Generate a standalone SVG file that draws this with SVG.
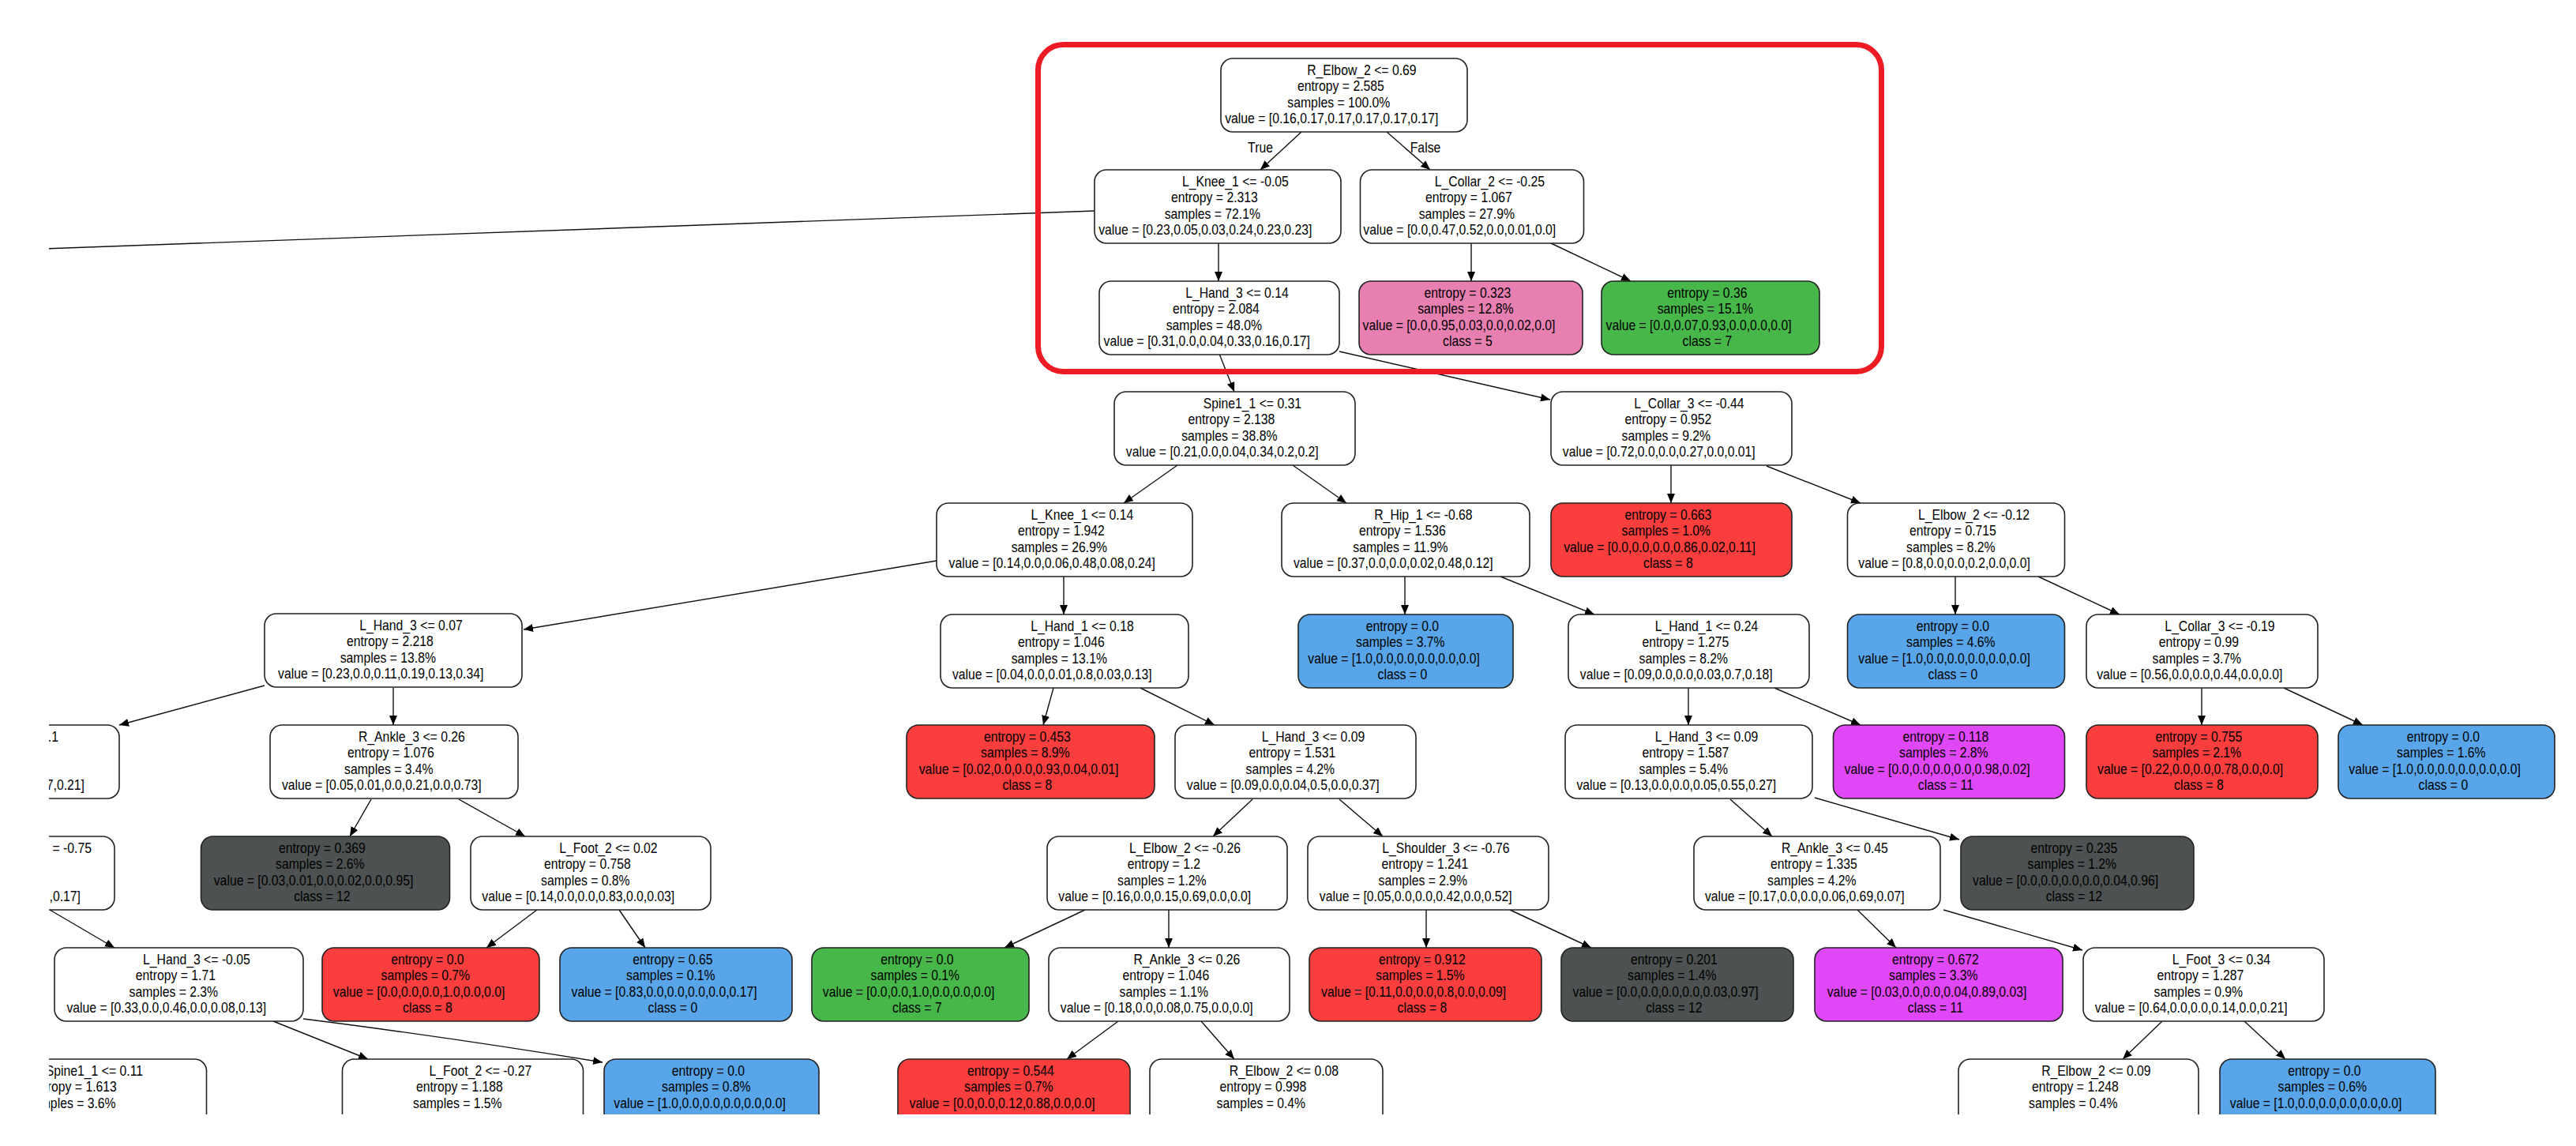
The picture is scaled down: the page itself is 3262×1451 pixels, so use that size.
<svg xmlns="http://www.w3.org/2000/svg" width="3262" height="1451" viewBox="0 0 3262 1451">
<style>
.n rect{stroke:#222;stroke-width:1.6}
.w{fill:#ffffff}.r{fill:#fa3e3e}.b{fill:#58a5e9}.g{fill:#47b749}.p{fill:#e77fb0}.m{fill:#e047f7}.k{fill:#4d5151}
text{font-family:"Liberation Sans",Arial,sans-serif;font-size:19px;text-anchor:middle;fill:#000}
.e{stroke:#111;stroke-width:1.4;fill:none;marker-end:url(#ah)}
.e0{stroke:#111;stroke-width:1.4;fill:none}
</style>
<defs>
<marker id="ah" markerWidth="13" markerHeight="11" refX="12" refY="5" orient="auto" markerUnits="userSpaceOnUse"><path d="M0,0 L12,5 L0,10 Z" fill="#000"/></marker>
<clipPath id="crop"><rect x="62" y="0" width="3200" height="1411"/></clipPath>
</defs>
<rect x="0" y="0" width="3262" height="1451" fill="#fff"/>
<g id="connectors" clip-path="url(#crop)">
<line class="e" x1="1648" y1="167" x2="1596" y2="215"/>
<line class="e" x1="1756" y1="167" x2="1811" y2="215"/>
<line class="e" x1="1543" y1="307" x2="1543" y2="356"/>
<line class="e0" x1="1386" y1="267" x2="0" y2="317"/>
<line class="e" x1="1863" y1="307" x2="1863" y2="356"/>
<line class="e" x1="1962" y1="307" x2="2065" y2="356"/>
<line class="e" x1="1544" y1="448" x2="1563" y2="496"/>
<line class="e" x1="1696" y1="445" x2="1963" y2="506"/>
<line class="e" x1="1491" y1="589" x2="1423" y2="637"/>
<line class="e" x1="1637" y1="589" x2="1705" y2="637"/>
<line class="e" x1="2116" y1="588" x2="2116" y2="637"/>
<line class="e" x1="2237" y1="590" x2="2356" y2="637"/>
<line class="e" x1="1347" y1="729" x2="1347" y2="778"/>
<line class="e" x1="1186" y1="710" x2="663" y2="797"/>
<line class="e" x1="1779" y1="729" x2="1779" y2="778"/>
<line class="e" x1="1900" y1="730" x2="2019" y2="778"/>
<line class="e" x1="2476" y1="729" x2="2476" y2="778"/>
<line class="e" x1="2581" y1="730" x2="2684" y2="778"/>
<line class="e" x1="335" y1="868" x2="151" y2="918"/>
<line class="e" x1="498" y1="871" x2="498" y2="918"/>
<line class="e" x1="1334" y1="871" x2="1321" y2="918"/>
<line class="e" x1="1444" y1="871" x2="1538" y2="918"/>
<line class="e" x1="2138" y1="870" x2="2138" y2="918"/>
<line class="e" x1="2247" y1="871" x2="2356" y2="918"/>
<line class="e" x1="2788" y1="870" x2="2788" y2="918"/>
<line class="e" x1="2892" y1="871" x2="2992" y2="918"/>
<line class="e" x1="470" y1="1012" x2="443" y2="1059"/>
<line class="e" x1="581" y1="1012" x2="665" y2="1059"/>
<line class="e" x1="1586" y1="1012" x2="1536" y2="1059"/>
<line class="e" x1="1696" y1="1012" x2="1751" y2="1059"/>
<line class="e" x1="2191" y1="1012" x2="2244" y2="1059"/>
<line class="e" x1="2298" y1="1010" x2="2481" y2="1063"/>
<line class="e" x1="63" y1="1152" x2="145" y2="1200"/>
<line class="e" x1="680" y1="1152" x2="616" y2="1200"/>
<line class="e" x1="784" y1="1152" x2="817" y2="1200"/>
<line class="e" x1="1374" y1="1152" x2="1272" y2="1200"/>
<line class="e" x1="1480" y1="1152" x2="1480" y2="1200"/>
<line class="e" x1="1806" y1="1152" x2="1806" y2="1200"/>
<line class="e" x1="1912" y1="1152" x2="2015" y2="1200"/>
<line class="e" x1="2352" y1="1152" x2="2401" y2="1200"/>
<line class="e" x1="2461" y1="1152" x2="2637" y2="1203"/>
<line class="e" x1="346" y1="1293" x2="466" y2="1341"/>
<path class="e" d="M384,1290 Q560,1312 763,1345"/>
<line class="e" x1="1416" y1="1293" x2="1351" y2="1341"/>
<line class="e" x1="1521" y1="1293" x2="1563" y2="1341"/>
<line class="e" x1="2738" y1="1293" x2="2688" y2="1341"/>
<line class="e" x1="2842" y1="1293" x2="2894" y2="1341"/>
<g transform="translate(1596,193) scale(0.83,1)"><text x="0" y="0">True</text></g>
<g transform="translate(1805,193) scale(0.83,1)"><text x="0" y="0">False</text></g>
</g>
<g id="nodes" clip-path="url(#crop)">
<g id="n_root" class="n" transform="translate(1702,74)"><rect class="w" x="-156" y="0" width="312" height="93" rx="15"/><g transform="scale(0.83,1)"><text x="27" y="21">R_Elbow_2 &lt;= 0.69</text><text x="-5" y="41.3">entropy = 2.585</text><text x="-8" y="61.6">samples = 100.0%</text><text x="-19" y="81.9">value = [0.16,0.17,0.17,0.17,0.17,0.17]</text></g></g>
<g id="n_knee05" class="n" transform="translate(1542,215)"><rect class="w" x="-156" y="0" width="312" height="93" rx="15"/><g transform="scale(0.83,1)"><text x="27" y="21">L_Knee_1 &lt;= -0.05</text><text x="-5" y="41.3">entropy = 2.313</text><text x="-8" y="61.6">samples = 72.1%</text><text x="-19" y="81.9">value = [0.23,0.05,0.03,0.24,0.23,0.23]</text></g></g>
<g id="n_collar2" class="n" transform="translate(1864,215)"><rect class="w" x="-141.5" y="0" width="283" height="93" rx="15"/><g transform="scale(0.83,1)"><text x="27" y="21">L_Collar_2 &lt;= -0.25</text><text x="-5" y="41.3">entropy = 1.067</text><text x="-8" y="61.6">samples = 27.9%</text><text x="-19" y="81.9">value = [0.0,0.47,0.52,0.0,0.01,0.0]</text></g></g>
<g id="n_hand3_014" class="n" transform="translate(1544,356)"><rect class="w" x="-152" y="0" width="304" height="93" rx="15"/><g transform="scale(0.83,1)"><text x="27" y="21">L_Hand_3 &lt;= 0.14</text><text x="-5" y="41.3">entropy = 2.084</text><text x="-8" y="61.6">samples = 48.0%</text><text x="-19" y="81.9">value = [0.31,0.0,0.04,0.33,0.16,0.17]</text></g></g>
<g id="n_pink" class="n" transform="translate(1862.5,356)"><rect class="p" x="-141.5" y="0" width="283" height="93" rx="15"/><g transform="scale(0.83,1)"><text x="-5" y="21">entropy = 0.323</text><text x="-8" y="41.3">samples = 12.8%</text><text x="-18" y="61.6">value = [0.0,0.95,0.03,0.0,0.02,0.0]</text><text x="-5" y="81.9">class = 5</text></g></g>
<g id="n_green1" class="n" transform="translate(2166,356)"><rect class="g" x="-138" y="0" width="276" height="93" rx="15"/><g transform="scale(0.83,1)"><text x="-5" y="21">entropy = 0.36</text><text x="-8" y="41.3">samples = 15.1%</text><text x="-18" y="61.6">value = [0.0,0.07,0.93,0.0,0.0,0.0]</text><text x="-5" y="81.9">class = 7</text></g></g>
<g id="n_spine031" class="n" transform="translate(1563.5,496)"><rect class="w" x="-152.5" y="0" width="305" height="93" rx="15"/><g transform="scale(0.83,1)"><text x="27" y="21">Spine1_1 &lt;= 0.31</text><text x="-5" y="41.3">entropy = 2.138</text><text x="-8" y="61.6">samples = 38.8%</text><text x="-19" y="81.9">value = [0.21,0.0,0.04,0.34,0.2,0.2]</text></g></g>
<g id="n_collar3_044" class="n" transform="translate(2116.5,496)"><rect class="w" x="-152.5" y="0" width="305" height="93" rx="15"/><g transform="scale(0.83,1)"><text x="27" y="21">L_Collar_3 &lt;= -0.44</text><text x="-5" y="41.3">entropy = 0.952</text><text x="-8" y="61.6">samples = 9.2%</text><text x="-19" y="81.9">value = [0.72,0.0,0.0,0.27,0.0,0.01]</text></g></g>
<g id="n_knee014" class="n" transform="translate(1348,637)"><rect class="w" x="-162" y="0" width="324" height="93" rx="15"/><g transform="scale(0.83,1)"><text x="27" y="21">L_Knee_1 &lt;= 0.14</text><text x="-5" y="41.3">entropy = 1.942</text><text x="-8" y="61.6">samples = 26.9%</text><text x="-19" y="81.9">value = [0.14,0.0,0.06,0.48,0.08,0.24]</text></g></g>
<g id="n_hip" class="n" transform="translate(1780,637)"><rect class="w" x="-157" y="0" width="314" height="93" rx="15"/><g transform="scale(0.83,1)"><text x="27" y="21">R_Hip_1 &lt;= -0.68</text><text x="-5" y="41.3">entropy = 1.536</text><text x="-8" y="61.6">samples = 11.9%</text><text x="-19" y="81.9">value = [0.37,0.0,0.0,0.02,0.48,0.12]</text></g></g>
<g id="n_red0663" class="n" transform="translate(2116.5,637)"><rect class="r" x="-152.5" y="0" width="305" height="93" rx="15"/><g transform="scale(0.83,1)"><text x="-5" y="21">entropy = 0.663</text><text x="-8" y="41.3">samples = 1.0%</text><text x="-18" y="61.6">value = [0.0,0.0,0.0,0.86,0.02,0.11]</text><text x="-5" y="81.9">class = 8</text></g></g>
<g id="n_elbow012" class="n" transform="translate(2477,637)"><rect class="w" x="-137.5" y="0" width="275" height="93" rx="15"/><g transform="scale(0.83,1)"><text x="27" y="21">L_Elbow_2 &lt;= -0.12</text><text x="-5" y="41.3">entropy = 0.715</text><text x="-8" y="61.6">samples = 8.2%</text><text x="-18" y="81.9">value = [0.8,0.0,0.0,0.2,0.0,0.0]</text></g></g>
<g id="n_hand3_007" class="n" transform="translate(498,777)"><rect class="w" x="-163" y="0" width="326" height="93" rx="15"/><g transform="scale(0.83,1)"><text x="27" y="21">L_Hand_3 &lt;= 0.07</text><text x="-5" y="41.3">entropy = 2.218</text><text x="-8" y="61.6">samples = 13.8%</text><text x="-19" y="81.9">value = [0.23,0.0,0.11,0.19,0.13,0.34]</text></g></g>
<g id="n_hand1_018" class="n" transform="translate(1348,778)"><rect class="w" x="-157" y="0" width="314" height="93" rx="15"/><g transform="scale(0.83,1)"><text x="27" y="21">L_Hand_1 &lt;= 0.18</text><text x="-5" y="41.3">entropy = 1.046</text><text x="-8" y="61.6">samples = 13.1%</text><text x="-19" y="81.9">value = [0.04,0.0,0.01,0.8,0.03,0.13]</text></g></g>
<g id="n_blue37" class="n" transform="translate(1780,778)"><rect class="b" x="-136" y="0" width="272" height="93" rx="15"/><g transform="scale(0.83,1)"><text x="-5" y="21">entropy = 0.0</text><text x="-8" y="41.3">samples = 3.7%</text><text x="-18" y="61.6">value = [1.0,0.0,0.0,0.0,0.0,0.0]</text><text x="-5" y="81.9">class = 0</text></g></g>
<g id="n_hand1_024" class="n" transform="translate(2138.5,778)"><rect class="w" x="-152.5" y="0" width="305" height="93" rx="15"/><g transform="scale(0.83,1)"><text x="27" y="21">L_Hand_1 &lt;= 0.24</text><text x="-5" y="41.3">entropy = 1.275</text><text x="-8" y="61.6">samples = 8.2%</text><text x="-19" y="81.9">value = [0.09,0.0,0.0,0.03,0.7,0.18]</text></g></g>
<g id="n_blue46" class="n" transform="translate(2477,778)"><rect class="b" x="-137.5" y="0" width="275" height="93" rx="15"/><g transform="scale(0.83,1)"><text x="-5" y="21">entropy = 0.0</text><text x="-8" y="41.3">samples = 4.6%</text><text x="-18" y="61.6">value = [1.0,0.0,0.0,0.0,0.0,0.0]</text><text x="-5" y="81.9">class = 0</text></g></g>
<g id="n_collar3_019" class="n" transform="translate(2788.5,778)"><rect class="w" x="-146.5" y="0" width="293" height="93" rx="15"/><g transform="scale(0.83,1)"><text x="27" y="21">L_Collar_3 &lt;= -0.19</text><text x="-5" y="41.3">entropy = 0.99</text><text x="-8" y="61.6">samples = 3.7%</text><text x="-19" y="81.9">value = [0.56,0.0,0.0,0.44,0.0,0.0]</text></g></g>
<g id="n_partial_01" class="n" transform="translate(0,918)"><rect class="w" x="-160" y="0" width="311" height="93" rx="15"/><g transform="translate(74,21) scale(0.83,1)"><text x="0" y="0" style="text-anchor:end">.1</text></g><g transform="translate(107,81.9) scale(0.83,1)"><text x="0" y="0" style="text-anchor:end">7,0.21]</text></g></g>
<g id="n_ankle026a" class="n" transform="translate(499,918)"><rect class="w" x="-157" y="0" width="314" height="93" rx="15"/><g transform="scale(0.83,1)"><text x="27" y="21">R_Ankle_3 &lt;= 0.26</text><text x="-5" y="41.3">entropy = 1.076</text><text x="-8" y="61.6">samples = 3.4%</text><text x="-19" y="81.9">value = [0.05,0.01,0.0,0.21,0.0,0.73]</text></g></g>
<g id="n_red0453" class="n" transform="translate(1305,918)"><rect class="r" x="-157" y="0" width="314" height="93" rx="15"/><g transform="scale(0.83,1)"><text x="-5" y="21">entropy = 0.453</text><text x="-8" y="41.3">samples = 8.9%</text><text x="-18" y="61.6">value = [0.02,0.0,0.0,0.93,0.04,0.01]</text><text x="-5" y="81.9">class = 8</text></g></g>
<g id="n_hand3_009a" class="n" transform="translate(1640.5,918)"><rect class="w" x="-152.5" y="0" width="305" height="93" rx="15"/><g transform="scale(0.83,1)"><text x="27" y="21">L_Hand_3 &lt;= 0.09</text><text x="-5" y="41.3">entropy = 1.531</text><text x="-8" y="61.6">samples = 4.2%</text><text x="-19" y="81.9">value = [0.09,0.0,0.04,0.5,0.0,0.37]</text></g></g>
<g id="n_hand3_009b" class="n" transform="translate(2138.5,918)"><rect class="w" x="-156.5" y="0" width="313" height="93" rx="15"/><g transform="scale(0.83,1)"><text x="27" y="21">L_Hand_3 &lt;= 0.09</text><text x="-5" y="41.3">entropy = 1.587</text><text x="-8" y="61.6">samples = 5.4%</text><text x="-19" y="81.9">value = [0.13,0.0,0.0,0.05,0.55,0.27]</text></g></g>
<g id="n_mag0118" class="n" transform="translate(2468,918)"><rect class="m" x="-146.5" y="0" width="293" height="93" rx="15"/><g transform="scale(0.83,1)"><text x="-5" y="21">entropy = 0.118</text><text x="-8" y="41.3">samples = 2.8%</text><text x="-18" y="61.6">value = [0.0,0.0,0.0,0.0,0.98,0.02]</text><text x="-5" y="81.9">class = 11</text></g></g>
<g id="n_red0755" class="n" transform="translate(2788.5,918)"><rect class="r" x="-146.5" y="0" width="293" height="93" rx="15"/><g transform="scale(0.83,1)"><text x="-5" y="21">entropy = 0.755</text><text x="-8" y="41.3">samples = 2.1%</text><text x="-18" y="61.6">value = [0.22,0.0,0.0,0.78,0.0,0.0]</text><text x="-5" y="81.9">class = 8</text></g></g>
<g id="n_blue16" class="n" transform="translate(3098,918)"><rect class="b" x="-137" y="0" width="274" height="93" rx="15"/><g transform="scale(0.83,1)"><text x="-5" y="21">entropy = 0.0</text><text x="-8" y="41.3">samples = 1.6%</text><text x="-18" y="61.6">value = [1.0,0.0,0.0,0.0,0.0,0.0]</text><text x="-5" y="81.9">class = 0</text></g></g>
<g id="n_partial_075" class="n" transform="translate(0,1059)"><rect class="w" x="-160" y="0" width="305" height="93" rx="15"/><g transform="translate(116,21) scale(0.83,1)"><text x="0" y="0" style="text-anchor:end">= -0.75</text></g><g transform="translate(102,81.9) scale(0.83,1)"><text x="0" y="0" style="text-anchor:end">,0.17]</text></g></g>
<g id="n_gray0369" class="n" transform="translate(412,1059)"><rect class="k" x="-157.5" y="0" width="315" height="93" rx="15"/><g transform="scale(0.83,1)"><text x="-5" y="21">entropy = 0.369</text><text x="-8" y="41.3">samples = 2.6%</text><text x="-18" y="61.6">value = [0.03,0.01,0.0,0.02,0.0,0.95]</text><text x="-5" y="81.9">class = 12</text></g></g>
<g id="n_foot2_002" class="n" transform="translate(748,1059)"><rect class="w" x="-152" y="0" width="304" height="93" rx="15"/><g transform="scale(0.83,1)"><text x="27" y="21">L_Foot_2 &lt;= 0.02</text><text x="-5" y="41.3">entropy = 0.758</text><text x="-8" y="61.6">samples = 0.8%</text><text x="-19" y="81.9">value = [0.14,0.0,0.0,0.83,0.0,0.03]</text></g></g>
<g id="n_elbow026" class="n" transform="translate(1478,1059)"><rect class="w" x="-152" y="0" width="304" height="93" rx="15"/><g transform="scale(0.83,1)"><text x="27" y="21">L_Elbow_2 &lt;= -0.26</text><text x="-5" y="41.3">entropy = 1.2</text><text x="-8" y="61.6">samples = 1.2%</text><text x="-19" y="81.9">value = [0.16,0.0,0.15,0.69,0.0,0.0]</text></g></g>
<g id="n_shoulder" class="n" transform="translate(1808.5,1059)"><rect class="w" x="-152.5" y="0" width="305" height="93" rx="15"/><g transform="scale(0.83,1)"><text x="27" y="21">L_Shoulder_3 &lt;= -0.76</text><text x="-5" y="41.3">entropy = 1.241</text><text x="-8" y="61.6">samples = 2.9%</text><text x="-19" y="81.9">value = [0.05,0.0,0.0,0.42,0.0,0.52]</text></g></g>
<g id="n_ankle045" class="n" transform="translate(2301,1059)"><rect class="w" x="-156" y="0" width="312" height="93" rx="15"/><g transform="scale(0.83,1)"><text x="27" y="21">R_Ankle_3 &lt;= 0.45</text><text x="-5" y="41.3">entropy = 1.335</text><text x="-8" y="61.6">samples = 4.2%</text><text x="-19" y="81.9">value = [0.17,0.0,0.0,0.06,0.69,0.07]</text></g></g>
<g id="n_gray0235" class="n" transform="translate(2630.5,1059)"><rect class="k" x="-147.5" y="0" width="295" height="93" rx="15"/><g transform="scale(0.83,1)"><text x="-5" y="21">entropy = 0.235</text><text x="-8" y="41.3">samples = 1.2%</text><text x="-18" y="61.6">value = [0.0,0.0,0.0,0.0,0.04,0.96]</text><text x="-5" y="81.9">class = 12</text></g></g>
<g id="n_hand3_005" class="n" transform="translate(226.5,1200)"><rect class="w" x="-157.5" y="0" width="315" height="93" rx="15"/><g transform="scale(0.83,1)"><text x="27" y="21">L_Hand_3 &lt;= -0.05</text><text x="-5" y="41.3">entropy = 1.71</text><text x="-8" y="61.6">samples = 2.3%</text><text x="-19" y="81.9">value = [0.33,0.0,0.46,0.0,0.08,0.13]</text></g></g>
<g id="n_red00" class="n" transform="translate(545.5,1200)"><rect class="r" x="-137.5" y="0" width="275" height="93" rx="15"/><g transform="scale(0.83,1)"><text x="-5" y="21">entropy = 0.0</text><text x="-8" y="41.3">samples = 0.7%</text><text x="-18" y="61.6">value = [0.0,0.0,0.0,1.0,0.0,0.0]</text><text x="-5" y="81.9">class = 8</text></g></g>
<g id="n_blue065" class="n" transform="translate(856,1200)"><rect class="b" x="-147" y="0" width="294" height="93" rx="15"/><g transform="scale(0.83,1)"><text x="-5" y="21">entropy = 0.65</text><text x="-8" y="41.3">samples = 0.1%</text><text x="-18" y="61.6">value = [0.83,0.0,0.0,0.0,0.0,0.17]</text><text x="-5" y="81.9">class = 0</text></g></g>
<g id="n_green00" class="n" transform="translate(1165.5,1200)"><rect class="g" x="-137.5" y="0" width="275" height="93" rx="15"/><g transform="scale(0.83,1)"><text x="-5" y="21">entropy = 0.0</text><text x="-8" y="41.3">samples = 0.1%</text><text x="-18" y="61.6">value = [0.0,0.0,1.0,0.0,0.0,0.0]</text><text x="-5" y="81.9">class = 7</text></g></g>
<g id="n_ankle026b" class="n" transform="translate(1480.5,1200)"><rect class="w" x="-152.5" y="0" width="305" height="93" rx="15"/><g transform="scale(0.83,1)"><text x="27" y="21">R_Ankle_3 &lt;= 0.26</text><text x="-5" y="41.3">entropy = 1.046</text><text x="-8" y="61.6">samples = 1.1%</text><text x="-19" y="81.9">value = [0.18,0.0,0.08,0.75,0.0,0.0]</text></g></g>
<g id="n_red0912" class="n" transform="translate(1805,1200)"><rect class="r" x="-147" y="0" width="294" height="93" rx="15"/><g transform="scale(0.83,1)"><text x="-5" y="21">entropy = 0.912</text><text x="-8" y="41.3">samples = 1.5%</text><text x="-18" y="61.6">value = [0.11,0.0,0.0,0.8,0.0,0.09]</text><text x="-5" y="81.9">class = 8</text></g></g>
<g id="n_gray0201" class="n" transform="translate(2124,1200)"><rect class="k" x="-147" y="0" width="294" height="93" rx="15"/><g transform="scale(0.83,1)"><text x="-5" y="21">entropy = 0.201</text><text x="-8" y="41.3">samples = 1.4%</text><text x="-18" y="61.6">value = [0.0,0.0,0.0,0.0,0.03,0.97]</text><text x="-5" y="81.9">class = 12</text></g></g>
<g id="n_mag0672" class="n" transform="translate(2455,1200)"><rect class="m" x="-157" y="0" width="314" height="93" rx="15"/><g transform="scale(0.83,1)"><text x="-5" y="21">entropy = 0.672</text><text x="-8" y="41.3">samples = 3.3%</text><text x="-18" y="61.6">value = [0.03,0.0,0.0,0.04,0.89,0.03]</text><text x="-5" y="81.9">class = 11</text></g></g>
<g id="n_foot3" class="n" transform="translate(2790.5,1200)"><rect class="w" x="-152.5" y="0" width="305" height="93" rx="15"/><g transform="scale(0.83,1)"><text x="27" y="21">L_Foot_3 &lt;= 0.34</text><text x="-5" y="41.3">entropy = 1.287</text><text x="-8" y="61.6">samples = 0.9%</text><text x="-19" y="81.9">value = [0.64,0.0,0.0,0.14,0.0,0.21]</text></g></g>
<g id="n_spine011" class="n" transform="translate(97,1341)"><rect class="w" x="-148.5" y="0" width="313" height="93" rx="15"/><g transform="scale(0.83,1)"><text x="27" y="21">Spine1_1 &lt;= 0.11</text><text x="-5" y="41.3">entropy = 1.613</text><text x="-8" y="61.6">samples = 3.6%</text></g></g>
<g id="n_foot2_027" class="n" transform="translate(586,1341)"><rect class="w" x="-152.5" y="0" width="305" height="93" rx="15"/><g transform="scale(0.83,1)"><text x="27" y="21">L_Foot_2 &lt;= -0.27</text><text x="-5" y="41.3">entropy = 1.188</text><text x="-8" y="61.6">samples = 1.5%</text></g></g>
<g id="n_blue08" class="n" transform="translate(901,1341)"><rect class="b" x="-136" y="0" width="272" height="93" rx="15"/><g transform="scale(0.83,1)"><text x="-5" y="21">entropy = 0.0</text><text x="-8" y="41.3">samples = 0.8%</text><text x="-18" y="61.6">value = [1.0,0.0,0.0,0.0,0.0,0.0]</text></g></g>
<g id="n_red0544" class="n" transform="translate(1284,1341)"><rect class="r" x="-147" y="0" width="294" height="93" rx="15"/><g transform="scale(0.83,1)"><text x="-5" y="21">entropy = 0.544</text><text x="-8" y="41.3">samples = 0.7%</text><text x="-18" y="61.6">value = [0.0,0.0,0.12,0.88,0.0,0.0]</text></g></g>
<g id="n_elbow008" class="n" transform="translate(1603.5,1341)"><rect class="w" x="-147.5" y="0" width="295" height="93" rx="15"/><g transform="scale(0.83,1)"><text x="27" y="21">R_Elbow_2 &lt;= 0.08</text><text x="-5" y="41.3">entropy = 0.998</text><text x="-8" y="61.6">samples = 0.4%</text></g></g>
<g id="n_elbow009" class="n" transform="translate(2632,1341)"><rect class="w" x="-152" y="0" width="304" height="93" rx="15"/><g transform="scale(0.83,1)"><text x="27" y="21">R_Elbow_2 &lt;= 0.09</text><text x="-5" y="41.3">entropy = 1.248</text><text x="-8" y="61.6">samples = 0.4%</text></g></g>
<g id="n_blue06" class="n" transform="translate(2947.5,1341)"><rect class="b" x="-136.5" y="0" width="273" height="93" rx="15"/><g transform="scale(0.83,1)"><text x="-5" y="21">entropy = 0.0</text><text x="-8" y="41.3">samples = 0.6%</text><text x="-18" y="61.6">value = [1.0,0.0,0.0,0.0,0.0,0.0]</text></g></g>
</g>
<g id="highlight"><rect x="1314.5" y="56.5" width="1068" height="414" rx="32" fill="none" stroke="#ed1c24" stroke-width="7"/></g>
</svg>
